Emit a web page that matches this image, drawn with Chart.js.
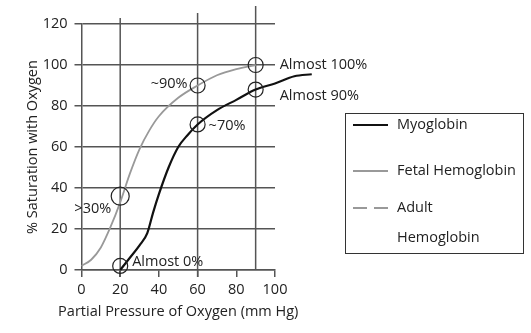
<!DOCTYPE html>
<html>
<head>
<meta charset="utf-8">
<script src="https://cdn.jsdelivr.net/npm/chart.js@4/dist/chart.umd.min.js"></script>
<style>
  html, body { margin: 0; padding: 0; background: #fff; }
  #wrap { width: 531px; height: 333px; }
</style>
</head>
<body>
<div id="wrap"><canvas id="satChart"></canvas></div>
<script>
// Oxygen saturation curves
const myoPressure = [20, 25, 30, 34, 37, 40, 45, 50, 55, 60, 70, 80, 90, 100, 110, 119];
const myoSaturation = [0, 6, 12, 18, 28, 37, 50, 60, 66, 71, 78, 83, 88, 91, 94.5, 95.5];

const fetalPressure = [0, 5, 10, 15, 20, 25, 30, 35, 40, 50, 60, 70, 80, 90];
const fetalSaturation = [2, 5, 11, 21, 33, 47, 59, 68, 75, 84, 90, 95, 98, 100];

const seriesLabels = ['Myoglobin', 'Fetal Hemoglobin', 'Adult\nHemoglobin'];

// circled reference points
const markPressure = [20, 20, 60, 60, 90, 90];
const markSaturation = [2, 36, 90, 71, 100, 88];
const markLabels = ['Almost 0%', '>30%', '~90%', '~70%', 'Almost 100%', 'Almost 90%'];

const xTicks = [0, 20, 40, 60, 80, 100];
const yTicks = [0, 20, 40, 60, 80, 100, 120];
const markedPressures = [20, 60, 90];

const xTitle = 'Partial Pressure of Oxygen (mm Hg)';
const yTitle = '% Saturation with Oxygen';

const FONT = '"Open Sans", sans-serif';
const FONT_SIZE = 14.5;
const GRID = '#555';

function toPoints(xs, ys) {
    return xs.map((x, i) => ({ x: x, y: ys[i] }));
}

// vertical guide lines at the marked pressures
const guideLines = {
    id: 'guideLines',
    beforeDatasetsDraw(chart) {
        const { ctx, chartArea, scales } = chart;
        const above = [6, 11, 18];
        const below = [7, 7, 0];
        ctx.save();
        ctx.strokeStyle = GRID;
        ctx.lineWidth = 1.5;
        markedPressures.forEach((p, i) => {
            const x = scales.x.getPixelForValue(p);
            ctx.beginPath();
            ctx.moveTo(x, chartArea.top - above[i]);
            ctx.lineTo(x, chartArea.bottom + below[i]);
            ctx.stroke();
        });
        ctx.restore();
    }
};

// x axis title, drawn by hand since the built-in one is squeezed to the axis width
const xAxisTitle = {
    id: 'xAxisTitle',
    afterDraw(chart) {
        const { ctx, chartArea } = chart;
        ctx.save();
        ctx.font = FONT_SIZE + 'px ' + FONT;
        ctx.fillStyle = '#222';
        ctx.textAlign = 'center';
        ctx.textBaseline = 'middle';
        ctx.fillText(xTitle, (chartArea.left + chartArea.right) / 2, 312);
        ctx.restore();
    }
};

// text next to the circled points
const markText = {
    id: 'markText',
    afterDatasetsDraw(chart) {
        const { ctx, scales } = chart;
        // [dx, dy, align] for each label
        const place = [
            [12, -4, 'left'],
            [-9, 13, 'right'],
            [-10, -2, 'right'],
            [11, 1, 'left'],
            [24, 0, 'left'],
            [24, 6, 'left']
        ];
        ctx.save();
        ctx.font = FONT_SIZE + 'px ' + FONT;
        ctx.fillStyle = '#222';
        ctx.textBaseline = 'middle';
        markLabels.forEach((txt, i) => {
            const x = scales.x.getPixelForValue(markPressure[i]);
            const y = scales.y.getPixelForValue(markSaturation[i]);
            ctx.textAlign = place[i][2];
            ctx.fillText(txt, x + place[i][0], y + place[i][1]);
        });
        ctx.restore();
    }
};

// boxed legend on the right
const boxLegend = {
    id: 'boxLegend',
    afterDraw(chart) {
        const { ctx } = chart;
        const box = { left: 345.5, top: 113.5, right: 523.5, bottom: 253.5 };
        const rows = [125, 171, 208];
        ctx.save();
        ctx.strokeStyle = '#333';
        ctx.lineWidth = 1;
        ctx.strokeRect(box.left, box.top, box.right - box.left, box.bottom - box.top);
        ctx.font = FONT_SIZE + 'px ' + FONT;
        ctx.fillStyle = '#222';
        ctx.textAlign = 'left';
        ctx.textBaseline = 'middle';
        chart.data.datasets.filter(d => !d.isMarks).forEach((ds, i) => {
            const y = rows[i];
            ctx.strokeStyle = ds.borderColor;
            ctx.lineWidth = ds.borderWidth;
            ctx.setLineDash(ds.borderDash || []);
            ctx.beginPath();
            ctx.moveTo(353, y);
            ctx.lineTo(388, y);
            ctx.stroke();
            ctx.setLineDash([]);
            ds.label.split('\n').forEach((line, j) => {
                ctx.fillText(line, 397, y + j * 30);
            });
        });
        ctx.restore();
    }
};

new Chart(document.getElementById('satChart'), {
    type: 'line',
    data: {
        datasets: [
            {
                label: seriesLabels[0],
                data: toPoints(myoPressure, myoSaturation),
                borderColor: '#111',
                borderWidth: 2.2,
                pointRadius: 0,
                cubicInterpolationMode: 'monotone',
                clip: false,
                order: 1
            },
            {
                label: seriesLabels[1],
                data: toPoints(fetalPressure, fetalSaturation),
                borderColor: '#999',
                borderWidth: 1.8,
                pointRadius: 0,
                cubicInterpolationMode: 'monotone',
                clip: false,
                order: 2
            },
            {
                label: seriesLabels[2],
                data: [],
                borderColor: '#999',
                borderWidth: 1.8,
                borderDash: [14, 7],
                pointRadius: 0,
                order: 3
            },
            {
                label: 'marks',
                isMarks: true,
                data: toPoints(markPressure, markSaturation),
                showLine: false,
                pointRadius: [7.5, 9, 7.5, 7.5, 7.5, 7.5],
                pointBorderColor: '#222',
                pointBorderWidth: 1.2,
                pointBackgroundColor: 'rgba(0,0,0,0)',
                clip: false,
                order: 0
            }
        ]
    },
    options: {
        responsive: true,
        maintainAspectRatio: false,
        animation: false,
        events: [],
        layout: { padding: { top: 24, right: 256, left: 24, bottom: 10 } },
        plugins: {
            legend: { display: false },
            tooltip: { enabled: false }
        },
        scales: {
            x: {
                type: 'linear',
                bounds: 'data',
                // range set after data limits so the myoglobin curve keeps its points past 100
                afterDataLimits: (scale) => { scale.min = 0; scale.max = 100; },
                afterBuildTicks: (scale) => { scale.ticks = xTicks.map(v => ({ value: v })); },
                afterFit: (scale) => { scale.height = 53; },
                ticks: { color: '#222', font: { family: FONT, size: FONT_SIZE }, padding: 4 },
                grid: { drawOnChartArea: false, drawTicks: true, tickLength: 7, color: GRID, lineWidth: 1.5 },
                border: { display: true, color: GRID, width: 1.5 },
                title: { display: false }
            },
            y: {
                type: 'linear',
                min: 0,
                max: 120,
                afterBuildTicks: (scale) => { scale.ticks = yTicks.map(v => ({ value: v })); },
                afterFit: (scale) => { scale.width = 57.5; },
                ticks: { color: '#222', font: { family: FONT, size: FONT_SIZE }, padding: 7 },
                grid: { drawTicks: true, tickLength: 7, color: GRID, lineWidth: 1.5 },
                border: { display: true, color: GRID, width: 1.5 },
                title: {
                    display: true,
                    text: yTitle,
                    color: '#222',
                    font: { family: FONT, size: FONT_SIZE },
                    padding: { top: 0, bottom: 0 }
                }
            }
        }
    },
    plugins: [guideLines, markText, xAxisTitle, boxLegend]
});
</script>
</body>
</html>
